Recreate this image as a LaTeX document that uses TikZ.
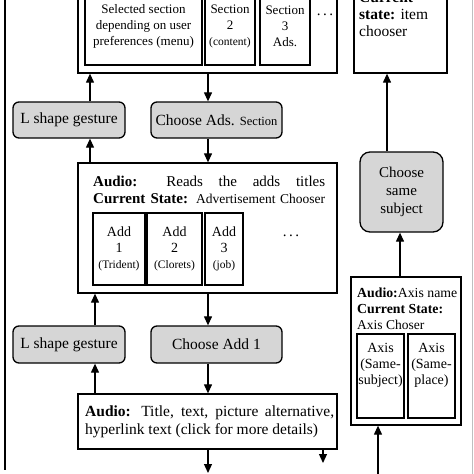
\documentclass[tikz,border=0pt]{standalone}
\usepackage{fontspec}
\setmainfont{Liberation Serif}
\usetikzlibrary{arrows.meta,positioning}
\tikzset{
  panel/.style={draw, line width=1.3pt, fill=white, inner sep=0pt, align=center,
    font=\fontsize{13}{16}\selectfont},
  gesture/.style={draw, line width=1.3pt, rounded corners=6pt, fill=black!16,
    inner sep=0pt, align=center, font=\fontsize{15.5}{18}\selectfont},
  txt/.style={inner sep=0pt, align=left, font=\fontsize{15.5}{17}\selectfont},
  subtxt/.style={inner sep=0pt, align=center, font=\fontsize{14}{16}\selectfont},
  flow/.style={line width=1.2pt, -{Triangle[length=9pt,width=8pt]}},
}
\newcommand{\smalltxt}[1]{{\fontsize{11.5}{14}\selectfont #1}}
\begin{document}
\begin{tikzpicture}[x=1pt,y=-1pt]
\useasboundingbox (0,0) rectangle (474,474);
\clip (0,0) rectangle (474,474);
% page edges
\draw[line width=1.2pt] (5,-5) -- (5,470);
\draw[black!25, line width=1.5pt] (472.5,-5) -- (472.5,480);

% section chooser
\node[panel, minimum width=259, minimum height=93] (secbox) at (207.5,26.5) {};
\node[panel, minimum width=117, minimum height=78] (sec1) at (143.5,26) {Selected section\\depending on user\\preferences (menu)};
\node[panel, minimum width=50, minimum height=78] (sec2) at (230,26) {Section\\2\\\smalltxt{(content)}};
\node[panel, minimum width=50, minimum height=78] (sec3) at (285,26) {Section\\3\\Ads.};
\node[inner sep=0pt, font=\fontsize{15}{16}\selectfont] (secdots) at (325,15) {.\,.\,.};

% item chooser
\node[panel, minimum width=93, minimum height=93] (itembox) at (400.5,26.5) {};
\node[txt, anchor=north west] (itemtxt) at (359,-8) {\textbf{Current}\\\textbf{state:} item\\chooser};

% first gestures
\node[gesture, minimum width=112, minimum height=36] (lshape1) at (69,120) {L shape gesture};
\node[gesture, minimum width=131, minimum height=36] (chooseads) at (216.5,120) {Choose Ads. {\fontsize{12.5}{14}\selectfont Section}};

% advertisement chooser
\node[panel, minimum width=259, minimum height=130] (adbox) at (207.5,228) {};
\node[txt, anchor=north west, font=\fontsize{15}{17}\selectfont] (adtxt) at (93,176) {\makebox[232pt][s]{\textbf{Audio:} Reads the adds titles}\\\makebox[232pt][s]{\textbf{Current State:} {\fontsize{13.5}{17}\selectfont Advertisement Chooser}}};
\node[panel, minimum width=52, minimum height=72, font=\fontsize{14}{16}\selectfont] (add1) at (119,249) {Add\\1\\\smalltxt{(Trident)}};
\node[panel, minimum width=55, minimum height=72, font=\fontsize{14}{16}\selectfont] (add2) at (174.5,249) {Add\\2\\\smalltxt{(Clorets)}};
\node[panel, minimum width=38, minimum height=72, font=\fontsize{14}{16}\selectfont] (add3) at (224,249) {Add\\3\\\smalltxt{(job)}};
\node[inner sep=0pt, font=\fontsize{15}{16}\selectfont] (addots) at (291,236) {.\,.\,.};

% second gestures
\node[gesture, minimum width=112, minimum height=37] (lshape2) at (69,344.5) {L shape gesture};
\node[gesture, minimum width=131, minimum height=37] (chooseadd) at (216.5,344.5) {Choose Add 1};

% details
\node[panel, minimum width=259, minimum height=55] (detailbox) at (207.5,421.5) {};
\node[txt, anchor=north west, font=\fontsize{15.5}{18}\selectfont] (detailtxt) at (85,405.5) {\makebox[249pt][s]{\textbf{Audio:} Title, text, picture alternative,}\\hyperlink text (click for more details)};

% right column
\node[gesture, rounded corners=10pt, minimum width=83, minimum height=80, font=\fontsize{15}{18}\selectfont] (samesubj) at (401.5,192) {Choose\\same\\subject};
\node[panel, minimum width=110, minimum height=148] (axisbox) at (406,351) {};
\node[txt, anchor=north west, font=\fontsize{13.8}{16}\selectfont] (axistxt) at (357,288) {\textbf{Audio:}Axis name\\\textbf{Current State:}\\{\fontsize{13.5}{14}\selectfont Axis Choser}};
\node[panel, minimum width=47, minimum height=84] (axis1) at (380.5,376) {};
\node[panel, minimum width=47, minimum height=84] (axis2) at (431.5,376) {};
\node[subtxt, anchor=north] (axis1txt) at ([yshift=-10pt]axis1.north) {Axis\\(Same-\\subject)};
\node[subtxt, anchor=north] (axis2txt) at ([yshift=-10pt]axis2.north) {Axis\\(Same-\\place)};

% connectors
\coordinate (xl1) at (90,0);
\coordinate (xl2) at (95,0);
\coordinate (xm) at (208,0);
\coordinate (xr1) at (387,0);
\coordinate (xr2) at (400,0);
\coordinate (out1) at (208,473);
\coordinate (out2) at (323,463);
\coordinate (in1) at (378,480);
\draw[flow] (lshape1.north -| xl1) -- (secbox.south -| xl1);
\draw[flow] (adbox.north -| xl1) -- (lshape1.south -| xl1);
\draw[flow] (secbox.south -| xm) -- (chooseads.north -| xm);
\draw[flow] (chooseads.south -| xm) -- (adbox.north -| xm);
\draw[flow] (lshape2.north -| xl2) -- (adbox.south -| xl2);
\draw[flow] (detailbox.north -| xl2) -- (lshape2.south -| xl2);
\draw[flow] (adbox.south -| xm) -- (chooseadd.north -| xm);
\draw[flow] (chooseadd.south -| xm) -- (detailbox.north -| xm);
\draw[flow] (detailbox.south -| out1) -- (out1);
\draw[flow] (detailbox.south -| out2) -- (out2);
\draw[flow] (in1) -- (axisbox.south -| in1);
\draw[flow] (axisbox.north -| xr2) -- (samesubj.south -| xr2);
\draw[flow] (samesubj.north -| xr1) -- (itembox.south -| xr1);
\end{tikzpicture}
\end{document}
